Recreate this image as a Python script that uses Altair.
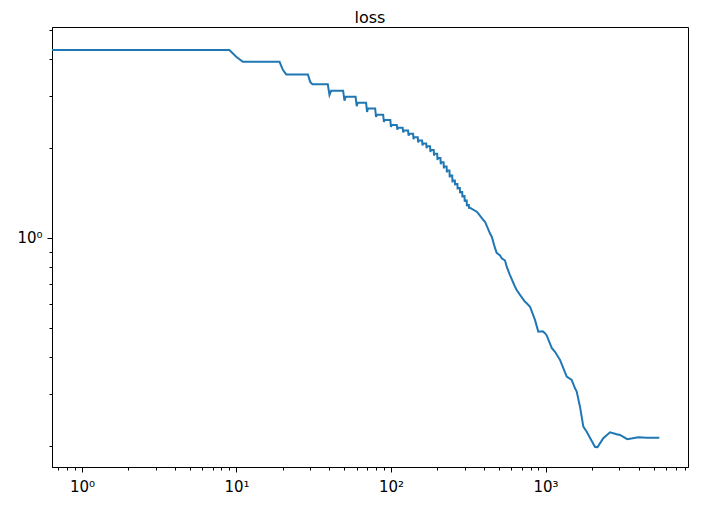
import altair as alt
import pandas as pd

# training step and loss
steps = [0, 9, 10, 11, 19, 20, 21, 29, 30, 31, 39, 40, 41, 49, 50, 51, 59, 60, 61,
         69, 70, 71, 79, 80, 81, 89, 90, 91, 99, 100, 101,
         109, 110, 111, 119, 120, 121, 129, 130, 131, 139, 140, 141, 149, 150, 151,
         159, 160, 161, 169, 170, 171, 179, 180, 181, 189, 190, 191, 199, 200, 201,
         209, 210, 211, 219, 220, 221, 229, 230, 231, 239, 240, 241, 249, 250, 251,
         259, 260, 261, 269, 270, 271, 279, 280, 281, 289, 290, 291, 299, 300, 301,
         309, 310, 311, 319, 320, 321,
         359, 367, 396, 406, 437, 449, 471, 483, 508, 521, 547, 561, 589, 635, 651,
         684, 737, 756, 794, 855, 898, 959, 993, 1018, 1097, 1152, 1241, 1372, 1477,
         1552, 1592, 1672, 1757, 1848, 2092, 2171, 2366, 2615, 2889, 3035, 3384,
         3987, 4519, 5453]
loss = [4.27, 4.27, 4.05, 3.90, 3.90, 3.66, 3.54, 3.54, 3.34, 3.28, 3.28, 3.02, 3.12,
        3.12, 2.89, 2.98, 2.98, 2.77, 2.845, 2.845, 2.65, 2.72, 2.72, 2.55, 2.59,
        2.59, 2.45, 2.49, 2.49, 2.36, 2.394,
        2.394, 2.308, 2.343, 2.343, 2.261, 2.295, 2.295, 2.205, 2.239, 2.239, 2.144, 2.177,
        2.177, 2.092, 2.124, 2.124, 2.044, 2.075, 2.075, 2.001, 2.031, 2.031, 1.944, 1.974,
        1.974, 1.889, 1.918, 1.918, 1.827, 1.855, 1.855, 1.768, 1.795, 1.795, 1.712, 1.738,
        1.738, 1.660, 1.685, 1.685, 1.597, 1.621, 1.621, 1.537, 1.560, 1.560, 1.503, 1.518,
        1.518, 1.456, 1.471, 1.471, 1.413, 1.427, 1.427, 1.369, 1.383, 1.383, 1.323, 1.336,
        1.336, 1.277, 1.290, 1.290, 1.253, 1.266,
        1.225, 1.210, 1.149, 1.134, 1.037, 1.010, 0.926, 0.891, 0.874, 0.855, 0.840,
        0.801, 0.751, 0.686, 0.669, 0.644, 0.611, 0.604, 0.588, 0.531, 0.485, 0.486,
        0.479, 0.471, 0.4275, 0.415, 0.390, 0.3424, 0.3338, 0.3131, 0.3050, 0.2716,
        0.2327, 0.2239, 0.1989, 0.1987, 0.2128, 0.2228, 0.2194, 0.2183, 0.2112,
        0.2144, 0.2137, 0.2137]

title_text = ["loss"]
x_ticks = [0.7, 0.8, 0.9, 1, 2, 3, 4, 5, 6, 7, 8, 9, 10, 20, 30, 40, 50, 60, 70, 80, 90,
           100, 200, 300, 400, 500, 600, 700, 800, 900,
           1000, 2000, 3000, 4000, 5000, 6000, 7000, 8000]
y_ticks = [0.2, 0.3, 0.4, 0.5, 0.6, 0.7, 0.8, 0.9, 1, 2, 3, 4, 5]
x_domain = [0.64, 8360]
y_domain = [0.1704, 5.105]

df = pd.DataFrame({"step": steps, "loss": loss})

x_major = "datum.value == 1 || datum.value == 10 || datum.value == 100 || datum.value == 1000"
x_labels = ("datum.value == 1 ? '10⁰' : datum.value == 10 ? '10¹' : "
            "datum.value == 100 ? '10²' : datum.value == 1000 ? '10³' : ''")

W, H = 636, 440

line = alt.Chart(df).transform_calculate(
    xs="datum.step > 0 ? datum.step : 0.001"
).mark_line(color="#1f77b4", strokeWidth=2, clip=True).encode(
    x=alt.X("xs:Q",
            scale=alt.Scale(type="log", domain=x_domain, nice=False),
            axis=alt.Axis(values=x_ticks, labelExpr=x_labels, title=None,
                          tickSize={"condition": {"test": x_major, "value": 5}, "value": 3},
                          labelOverlap=False, labelPadding=7, labelFlush=False)),
    y=alt.Y("loss:Q",
            scale=alt.Scale(type="log", domain=y_domain, nice=False),
            axis=alt.Axis(values=y_ticks,
                          labelExpr="datum.value == 1 ? '10⁰' : ''", title=None,
                          tickSize={"condition": {"test": "datum.value == 1", "value": 5}, "value": 3},
                          labelOverlap=False, labelPadding=5, labelFlush=False)),
)

title = alt.Chart(pd.DataFrame({"t": title_text})).mark_text(
    font="DejaVu Sans", fontSize=16, fontWeight="normal", color="black",
    align="center", baseline="alphabetic", clip=False
).encode(text="t:N", x=alt.value(W / 2), y=alt.value(-4))

chart = alt.layer(line, title).properties(
    width=W, height=H,
    autosize=alt.AutoSizeParams(type="none"),
    padding={"left": 44, "top": 19, "right": 10, "bottom": 33},
).configure_view(
    stroke="black", strokeWidth=1
).configure_axis(
    grid=False, labelFont="DejaVu Sans", labelFontSize=15, labelColor="black",
    tickColor="black", domainColor="black", tickWidth=1, domainWidth=1
)

chart.save("out.html", embed_options={"renderer": "svg", "actions": False})
